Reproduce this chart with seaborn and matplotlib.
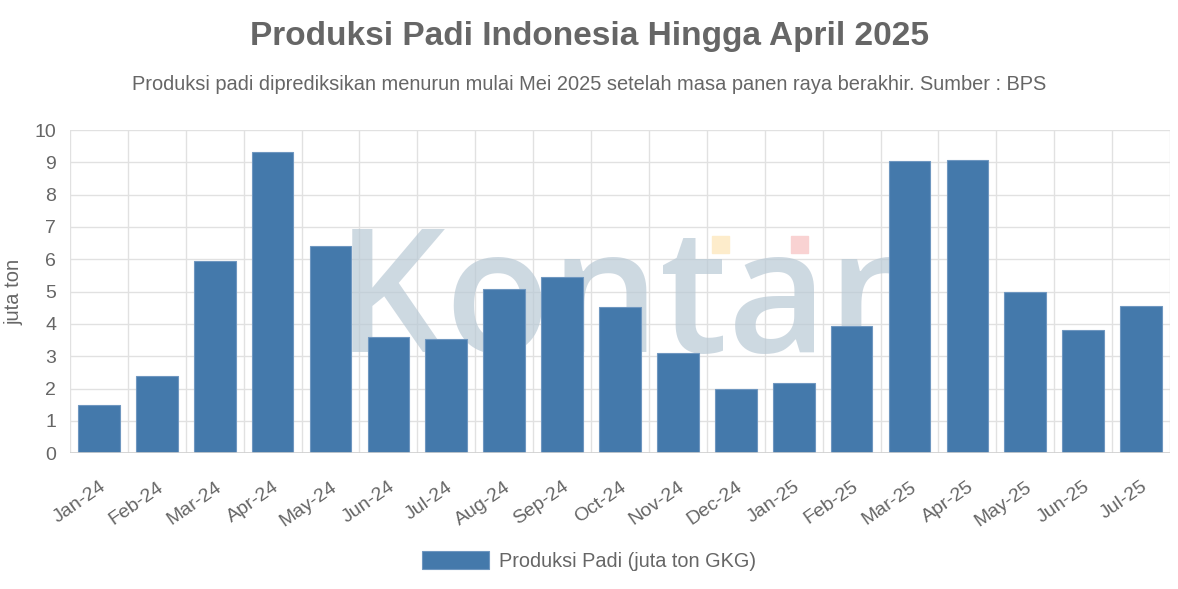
import matplotlib
matplotlib.use("Agg")
import matplotlib.pyplot as plt
from matplotlib.patches import Rectangle
from matplotlib.transforms import ScaledTranslation
import seaborn as sns
import pandas as pd
import numpy as np

months = ["Jan-24", "Feb-24", "Mar-24", "Apr-24", "May-24", "Jun-24", "Jul-24",
          "Aug-24", "Sep-24", "Oct-24", "Nov-24", "Dec-24", "Jan-25", "Feb-25",
          "Mar-25", "Apr-25", "May-25", "Jun-25", "Jul-25"]
produksi = [1.49, 2.38, 5.94, 9.32, 6.42, 3.61, 3.53, 5.09, 5.46, 4.54,
            3.09, 1.98, 2.17, 3.93, 9.05, 9.07, 5.00, 3.80, 4.56]
series_name = "Produksi Padi (juta ton GKG)"

df = pd.DataFrame({"bulan": months, "nilai": produksi, "seri": series_name})

sns.set_theme(style="white")
plt.rcParams["font.family"] = ["Liberation Sans", "DejaVu Sans"]

TEXT = "#666666"
GRID = "#e1e1e1"
BAR = "#4479ab"

fig = plt.figure(figsize=(11.78, 5.89), dpi=100)
ax = fig.add_axes([70 / 1178, 1 - 453.3 / 589, 1100 / 1178, 323.3 / 589])

sns.barplot(data=df, x="bulan", y="nilai", hue="seri", palette=[BAR],
            width=0.72, edgecolor="#6f97c0", linewidth=0.8, ax=ax, zorder=3,
            saturation=1)

ax.set_ylim(0, 10)
ax.set_xlim(-0.5, len(months) - 0.5)
ax.set_yticks(range(0, 11))
ax.set_xticks(range(len(months)))
ax.set_xticks(np.arange(-0.5, len(months), 1.0), minor=True)
ax.set_xticklabels(months, rotation=35, ha="right", rotation_mode="anchor",
                   fontsize=14, color=TEXT)
shift = ScaledTranslation(-12 / 100, 0, fig.dpi_scale_trans)
for lab in ax.get_xticklabels():
    lab.set_transform(lab.get_transform() + shift)
ax.tick_params(axis="x", which="major", length=0, pad=18)
ax.tick_params(axis="x", which="minor", length=9, color=GRID, width=1)
ax.tick_params(axis="y", which="major", length=0, pad=10, labelsize=14,
               labelcolor=TEXT)

ax.grid(True, axis="y", color=GRID, linewidth=1, zorder=0)
ax.grid(True, axis="x", which="minor", color=GRID, linewidth=1, zorder=0)
for s in ax.spines.values():
    s.set_visible(False)
ax.axhline(0, color="#d0d0d0", linewidth=1.2, zorder=4)

ax.set_xlabel("")
ax.set_ylabel("juta ton", fontsize=14.5, color=TEXT, labelpad=8)

# faint publisher watermark behind the bars
ax.text(0.515, (453.3 - 352) / 323.3, "Kontan", transform=ax.transAxes,
        ha="center", va="baseline", fontsize=124, color="#b9c9d5", alpha=0.7,
        family="Open Sans", fontweight="semibold", zorder=1)
fig.patches.append(Rectangle((712 / 1178, 1 - 253 / 589), 17 / 1178, 17 / 589,
                             transform=fig.transFigure, color="#fdeccb",
                             zorder=1))
fig.patches.append(Rectangle((791 / 1178, 1 - 253 / 589), 17 / 1178, 17 / 589,
                             transform=fig.transFigure, color="#f9d2d2",
                             zorder=1))

leg = ax.legend(loc="center", bbox_to_anchor=(0.5, 1 - 561 / 589),
                bbox_transform=fig.transFigure, frameon=False, fontsize=14.3,
                handlelength=3.4, handleheight=1.0, handletextpad=0.5)
for t in leg.get_texts():
    t.set_color(TEXT)

fig.text(0.5, 1 - 37 / 589, "Produksi Padi Indonesia Hingga April 2025",
         ha="center", va="center", fontsize=24, fontweight="bold", color=TEXT)
fig.text(0.5, 1 - 85 / 589,
         "Produksi padi diprediksikan menurun mulai Mei 2025 setelah masa panen raya berakhir. Sumber : BPS",
         ha="center", va="center", fontsize=14.4, color=TEXT)

fig.savefig("out.png", dpi=100, facecolor="white")
